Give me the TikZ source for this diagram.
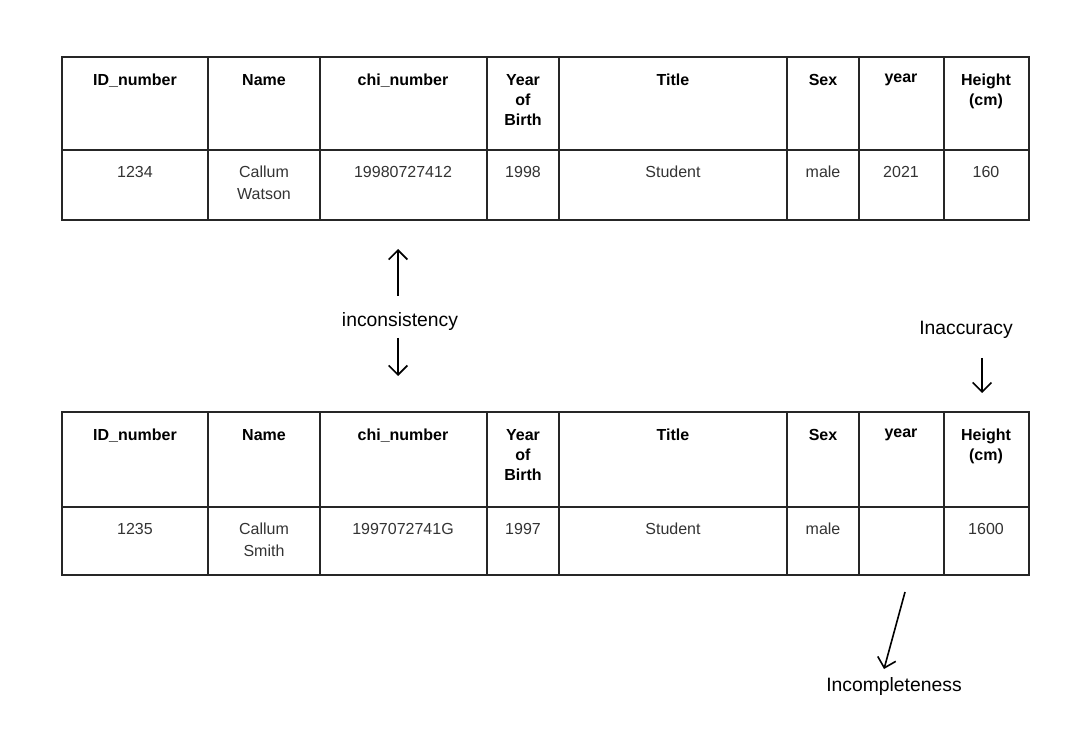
\documentclass[tikz,border=0pt]{standalone}
\usepackage{fontspec}
\setmainfont{Liberation Sans}
\usetikzlibrary{arrows.meta}
\begin{document}
\begin{tikzpicture}[x=0.75pt,y=0.75pt,
  grid/.style={draw=black!85,line width=1.1pt},
  hd/.style={anchor=north,font=\fontsize{12}{15}\selectfont\bfseries,align=center,inner sep=0pt},
  cell/.style={anchor=north,font=\fontsize{12}{16}\selectfont,align=center,inner sep=0pt,text=black!80},
  lab/.style={font=\fontsize{14.5}{16}\selectfont,inner sep=1pt},
  arr/.style={-{Straight Barb[length=7pt,width=14pt]},line width=1.2pt}]
\useasboundingbox (0,0) rectangle (1066,-730);
\foreach \tb/\rt/\ya/\yb/\myid/\mynm/\mychi/\myyob/\myyr/\myht in
  {1/57/150/220/1234/Callum\\Watson/19980727412/1998/2021/160,
   2/412/507/575/1235/Callum\\Smith/1997072741G/1997/{}/1600}{
  \draw[grid] (62,-\rt) rectangle (1029,-\yb);
  \draw[grid] (62,-\ya) -- (1029,-\ya);
  \foreach \x in {208,320,487,559,787,859,944} \draw[grid] (\x,-\rt) -- (\x,-\yb);
  \node[hd] (h\tb1) at (135,-\rt-17) {ID\_number};
  \node[hd] (h\tb2) at (264,-\rt-17) {Name};
  \node[hd] (h\tb3) at (403,-\rt-17) {chi\_number};
  \node[hd] (h\tb4) at (523,-\rt-17) {Year\\of\\Birth};
  \node[hd] (h\tb5) at (673,-\rt-17) {Title};
  \node[hd] (h\tb6) at (823,-\rt-17) {Sex};
  \node[hd] (h\tb7) at (901,-\rt-17) {year};
  \node[hd] (h\tb8) at (986,-\rt-17) {Height\\(cm)};
  \node[cell] (d\tb1) at (135,-\ya-16) {\myid};
  \node[cell] (d\tb2) at (264,-\ya-16) {\mynm};
  \node[cell] (d\tb3) at (403,-\ya-16) {\mychi};
  \node[cell] (d\tb4) at (523,-\ya-16) {\myyob};
  \node[cell] (d\tb5) at (673,-\ya-16) {Student};
  \node[cell] (d\tb6) at (823,-\ya-16) {male};
  \node[cell] (d\tb7) at (901,-\ya-16) {\myyr};
  \node[cell] (d\tb8) at (986,-\ya-16) {\myht};
}
\node[lab] (inc) at (400,-322) {inconsistency};
\coordinate (u1) at (398,-296); \coordinate (u2) at (398,-249);
\draw[arr] (u1) -- (u2);
\coordinate (v1) at (398,-338); \coordinate (v2) at (398,-376);
\draw[arr] (v1) -- (v2);
\node[lab] (ina) at (966,-330) {Inaccuracy};
\coordinate (w1) at (982,-358); \coordinate (w2) at (982,-393);
\draw[arr] (w1) -- (w2);
\node[lab] (icp) at (894,-686) {Incompleteness};
\coordinate (z1) at (905,-592); \coordinate (z2) at (884,-669);
\draw[arr] (z1) -- (z2);
\end{tikzpicture}
\end{document}
